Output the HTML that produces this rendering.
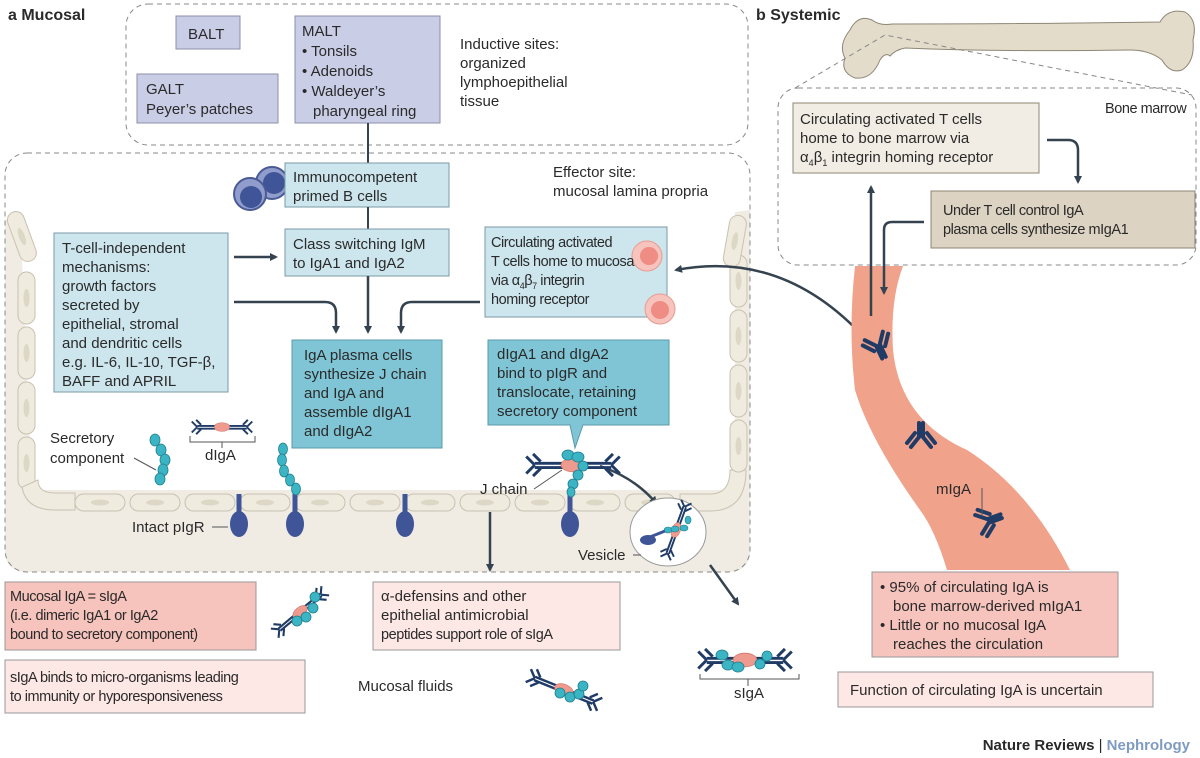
<!DOCTYPE html>
<html><head><meta charset="utf-8"><style>
html,body{margin:0;padding:0;background:#fff;}
svg{display:block;font-family:"Liberation Sans",sans-serif;}
text{font-size:15px;fill:#2a2a2a;}
.s{font-size:14.5px;letter-spacing:-0.45px;}
.b{font-weight:bold;}
</style></head><body>
<svg width="1200" height="758" viewBox="0 0 1200 758" xmlns="http://www.w3.org/2000/svg">
<defs>
<marker id="ah" markerWidth="8" markerHeight="8" refX="6" refY="4" orient="auto" markerUnits="userSpaceOnUse"><path d="M0,0 L8,4 L0,8 z" fill="#34434f"/></marker>
<g id="cellh"><rect x="0" y="0" width="50" height="17" rx="8.5" fill="#efebdf" stroke="#c9c2b0"/><ellipse cx="25" cy="8.5" rx="9" ry="3" fill="#ddd7c6"/></g>
<g id="cellv"><rect x="0" y="0" width="17" height="52" rx="8.5" fill="#efebdf" stroke="#c9c2b0"/><ellipse cx="8.5" cy="26" rx="3" ry="9" fill="#ddd7c6"/></g>
<g id="pigr"><rect x="-2.5" y="-30" width="5" height="24" fill="#3f5597"/><ellipse cx="0" cy="0" rx="9" ry="13" fill="#3f5597"/></g>
<g id="ab" stroke="#1f3b66" stroke-width="4" fill="none" stroke-linecap="round"><path d="M-2,14 L-2,0 L-10,-10 M2,14 L2,0 L10,-10 M-6,4 L-14,-6 M6,4 L14,-6"/></g>
<g id="dimer"><path d="M-45,-2 H45 M-45,3 H45" stroke="#1f3b66" stroke-width="3.5"/><path d="M-45,0 L-55,-10 M-45,0 L-55,10 M-38,-4 L-47,-13 M-38,4 L-47,13 M45,0 L55,-10 M45,0 L55,10 M38,-4 L47,-13 M38,4 L47,13" stroke="#1f3b66" stroke-width="3.5"/><ellipse cx="0" cy="0" rx="14" ry="8" fill="#ef9a8e" stroke="#d0786c"/></g>
</defs>

<text x="8" y="20" class="b" style="font-size:16px">a  Mucosal</text>
<text x="756" y="20" class="b" style="font-size:16px">b  Systemic</text>

<rect x="126" y="4" width="622" height="141" rx="22" fill="none" stroke="#888" stroke-dasharray="5,4"/>
<rect x="176" y="16" width="64" height="33" fill="#c9cde6" stroke="#8d8fa8"/><text x="188" y="39">BALT</text>
<rect x="137" y="74" width="141" height="49" fill="#c9cde6" stroke="#8d8fa8"/><text x="146" y="94">GALT</text><text x="146" y="114">Peyer’s patches</text>
<rect x="295" y="16" width="145" height="107" fill="#c9cde6" stroke="#8d8fa8"/>
<text x="302" y="36">MALT</text><text x="302" y="56">• Tonsils</text><text x="302" y="76">• Adenoids</text><text x="302" y="96">• Waldeyer’s</text><text x="313" y="116">pharyngeal ring</text>
<text x="460" y="49">Inductive sites:</text><text x="460" y="68">organized</text><text x="460" y="87">lymphoepithelial</text><text x="460" y="106">tissue</text>
<line x1="368" y1="123" x2="368" y2="163" stroke="#34434f" stroke-width="2"/>

<path d="M5,220 L20,215 L32,490 L735,490 L735,212 L750,210 L750,550 Q750,572 728,572 L27,572 Q5,572 5,550 Z" fill="#f0ece4"/>
<rect x="5" y="153" width="745" height="419" rx="22" fill="none" stroke="#888" stroke-dasharray="5,4"/>
<g transform="translate(5,215) rotate(-20)"><use href="#cellv"/></g>
<use href="#cellv" x="18" y="272"/><use href="#cellv" x="18" y="327"/><use href="#cellv" x="18" y="382"/><use href="#cellv" x="18" y="437"/>
<path d="M22,487 Q26,510 55,510 L75,510 L75,493 L55,493 Q38,493 38,480 Z" fill="#efebdf" stroke="#c9c2b0"/>
<use href="#cellh" x="75" y="494"/><use href="#cellh" x="130" y="494"/><use href="#cellh" x="185" y="494"/><use href="#cellh" x="240" y="494"/><use href="#cellh" x="295" y="494"/><use href="#cellh" x="350" y="494"/><use href="#cellh" x="405" y="494"/><use href="#cellh" x="460" y="494"/><use href="#cellh" x="515" y="494"/><use href="#cellh" x="570" y="494"/><use href="#cellh" x="625" y="494"/>
<path d="M680,494 L710,494 Q730,494 730,470 L746,470 Q746,511 710,511 L680,511 Z" fill="#efebdf" stroke="#c9c2b0"/>
<use href="#cellv" x="730" y="420"/><use href="#cellv" x="730" y="365"/><use href="#cellv" x="730" y="310"/><use href="#cellv" x="730" y="255"/>
<g transform="translate(731,214) rotate(10)"><use href="#cellv"/></g>

<text x="553" y="177">Effector site:</text><text x="553" y="196">mucosal lamina propria</text>

<circle cx="272" cy="183" r="16" fill="#8f9ccc" stroke="#4a5a94" stroke-width="2"/><circle cx="274" cy="183" r="11" fill="#3f5597"/>
<circle cx="250" cy="194" r="16" fill="#8f9ccc" stroke="#4a5a94" stroke-width="2"/><circle cx="251" cy="197" r="11" fill="#3f5597"/>

<rect x="285" y="163" width="164" height="44" fill="#cde6ee" stroke="#7a9aa6"/><text x="293" y="182">Immunocompetent</text><text x="293" y="201">primed B cells</text>
<line x1="368" y1="207" x2="368" y2="229" stroke="#34434f" stroke-width="2"/>
<rect x="285" y="229" width="164" height="47" fill="#cde6ee" stroke="#7a9aa6"/><text x="293" y="249">Class switching IgM</text><text x="293" y="268">to IgA1 and IgA2</text>

<rect x="54" y="233" width="174" height="159" fill="#cde6ee" stroke="#7a9aa6"/>
<text x="62" y="253">T-cell-independent</text><text x="62" y="272">mechanisms:</text><text x="62" y="291">growth factors</text><text x="62" y="310">secreted by</text><text x="62" y="329">epithelial, stromal</text><text x="62" y="348">and dendritic cells</text><text x="62" y="367">e.g. IL-6, IL-10, TGF-β,</text><text x="62" y="386">BAFF and APRIL</text>

<g stroke="#34434f" stroke-width="2.5" fill="none">
<line x1="234" y1="257" x2="276" y2="257" marker-end="url(#ah)"/>
<path d="M234,302 L325,302 Q336,302 336,313 L336,332" marker-end="url(#ah)"/>
<line x1="368" y1="276" x2="368" y2="332" marker-end="url(#ah)"/>
<path d="M480,302 L412,302 Q401,302 401,313 L401,332" marker-end="url(#ah)"/>
<path d="M860,333 Q780,250 676,270" marker-end="url(#ah)"/>
<line x1="490" y1="512" x2="490" y2="570" marker-end="url(#ah)"/>
<path d="M600,466 Q635,478 656,503" marker-end="url(#ah)"/>
<path d="M710,565 L738,604" marker-end="url(#ah)"/>
</g>

<rect x="485" y="227" width="182" height="90" fill="#cde6ee" stroke="#7a9aa6"/>
<circle cx="647" cy="256" r="15" fill="#f7c3bd" stroke="#e89b92"/><circle cx="649" cy="256" r="9" fill="#ef8c84"/>
<circle cx="660" cy="309" r="15" fill="#f7c3bd" stroke="#e89b92"/><circle cx="660" cy="310" r="9" fill="#ef8c84"/>
<text x="491" y="247" class="s">Circulating activated</text><text x="491" y="266" class="s">T cells home to mucosa</text><text x="491" y="285" class="s">via α<tspan style="font-size:9px" dy="4">4</tspan><tspan dy="-4">β</tspan><tspan style="font-size:9px" dy="4">7</tspan><tspan dy="-4"> integrin</tspan></text><text x="491" y="304" class="s">homing receptor</text>

<rect x="292" y="340" width="150" height="108" fill="#80c5d5" stroke="#5b9aab"/>
<text x="304" y="360">IgA plasma cells</text><text x="304" y="379">synthesize J chain</text><text x="304" y="398">and IgA and</text><text x="304" y="417">assemble dIgA1</text><text x="304" y="436">and dIgA2</text>

<path d="M488,340 L669,340 L669,425 L583,425 L575,448 L570,425 L488,425 Z" fill="#80c5d5" stroke="#5b9aab"/>
<text x="497" y="359">dIgA1 and dIgA2</text><text x="497" y="378">bind to pIgR and</text><text x="497" y="397">translocate, retaining</text><text x="497" y="416">secretory component</text>

<g fill="#3bb4c4" stroke="#1f7f8e" stroke-width="0.8">
<ellipse cx="155" cy="440" rx="5" ry="6"/><ellipse cx="161" cy="450" rx="5" ry="6"/><ellipse cx="165" cy="460" rx="5" ry="6"/><ellipse cx="163" cy="470" rx="5" ry="6"/><ellipse cx="160" cy="479" rx="5" ry="6"/>
</g>
<text x="50" y="443">Secretory</text><text x="50" y="463">component</text>
<line x1="134" y1="458" x2="156" y2="470" stroke="#555"/>
<g transform="translate(222,427) scale(0.55)"><use href="#dimer"/></g>
<path d="M190,436 V442 H255 V436 M222,442 V448" stroke="#555" fill="none"/>
<text x="205" y="460">dIgA</text>

<use href="#pigr" x="239" y="524"/><use href="#pigr" x="295" y="524"/><use href="#pigr" x="405" y="524"/><use href="#pigr" x="570" y="524"/>
<g fill="#3bb4c4" stroke="#1f7f8e" stroke-width="0.8">
<ellipse cx="283" cy="449" rx="4.5" ry="6"/><ellipse cx="282" cy="460" rx="4.5" ry="6"/><ellipse cx="284" cy="471" rx="4.5" ry="6"/><ellipse cx="290" cy="480" rx="4.5" ry="6"/><ellipse cx="296" cy="489" rx="4.5" ry="6"/>
</g>
<text x="132" y="532">Intact pIgR</text><line x1="212" y1="527" x2="228" y2="527" stroke="#555"/>

<g transform="translate(573,465) scale(0.85)"><use href="#dimer"/></g>
<g fill="#3bb4c4" stroke="#1f7f8e" stroke-width="0.8">
<ellipse cx="568" cy="455" rx="6" ry="5"/><ellipse cx="578" cy="457" rx="6" ry="5"/><ellipse cx="583" cy="466" rx="5" ry="5"/><ellipse cx="578" cy="475" rx="5" ry="5"/><ellipse cx="573" cy="484" rx="5" ry="5"/><ellipse cx="571" cy="492" rx="4" ry="5"/>
</g>
<text x="480" y="494">J chain</text><line x1="534" y1="489" x2="562" y2="470" stroke="#555"/>

<ellipse cx="668" cy="532" rx="38" ry="34" fill="#fff" stroke="#999"/>
<g transform="translate(676,530) rotate(-70) scale(0.55)"><use href="#dimer"/></g>
<g fill="#3bb4c4" stroke="#1f7f8e" stroke-width="0.6"><ellipse cx="668" cy="530" rx="4" ry="3"/><ellipse cx="675" cy="529" rx="4" ry="3"/><ellipse cx="684" cy="528" rx="4" ry="3"/><ellipse cx="688" cy="520" rx="3" ry="4"/></g>
<line x1="650" y1="537" x2="665" y2="531" stroke="#3f5597" stroke-width="3"/>
<ellipse cx="648" cy="540" rx="8" ry="5" fill="#3f5597"/>
<text x="578" y="560">Vesicle</text><line x1="633" y1="555" x2="641" y2="555" stroke="#555"/>

<rect x="5" y="582" width="251" height="68" fill="#f6c4bd" stroke="#999"/>
<text x="10" y="601" class="s">Mucosal IgA = sIgA</text><text x="10" y="620" class="s">(i.e. dimeric IgA1 or IgA2</text><text x="10" y="639" class="s">bound to secretory component)</text>
<g transform="translate(300,612) rotate(-40) scale(0.6)"><use href="#dimer"/></g>
<g fill="#3bb4c4" stroke="#1f7f8e" stroke-width="0.8"><ellipse cx="315" cy="597" rx="5" ry="5"/><ellipse cx="313" cy="608" rx="5" ry="5"/><ellipse cx="306" cy="617" rx="5" ry="5"/><ellipse cx="297" cy="621" rx="5" ry="5"/></g>
<rect x="5" y="660" width="300" height="53" fill="#fde8e5" stroke="#999"/>
<text x="10" y="682" class="s">sIgA binds to micro-organisms leading</text><text x="10" y="701" class="s">to immunity or hyporesponsiveness</text>
<rect x="373" y="582" width="247" height="68" fill="#fde8e5" stroke="#999"/>
<text x="381" y="601">α-defensins and other</text><text x="381" y="620">epithelial antimicrobial</text><text x="381" y="639" class="s">peptides support role of sIgA</text>
<text x="358" y="691">Mucosal fluids</text>
<g transform="translate(564,690) rotate(22) scale(0.7)"><use href="#dimer"/></g>
<g fill="#3bb4c4" stroke="#1f7f8e" stroke-width="0.8"><ellipse cx="560" cy="693" rx="5" ry="5"/><ellipse cx="570" cy="697" rx="5" ry="5"/><ellipse cx="579" cy="694" rx="5" ry="5"/><ellipse cx="583" cy="686" rx="5" ry="5"/></g>

<g transform="translate(745,660) scale(0.85)"><use href="#dimer"/></g>
<g fill="#3bb4c4" stroke="#1f7f8e" stroke-width="0.8"><ellipse cx="722" cy="655" rx="6" ry="5"/><ellipse cx="728" cy="665" rx="6" ry="5"/><ellipse cx="738" cy="667" rx="6" ry="5"/><ellipse cx="760" cy="664" rx="5" ry="5"/><ellipse cx="767" cy="656" rx="5" ry="5"/></g>
<path d="M700,674 V679 H799 V674 M748,679 V686" stroke="#555" fill="none"/>
<text x="734" y="698">sIgA</text>

<path d="M850,30 Q858,14 872,20 Q880,26 892,24 Q1020,24 1160,22 Q1168,8 1185,12 Q1198,20 1193,40 Q1195,62 1182,70 Q1170,74 1162,60 Q1150,50 1130,50 Q1000,52 905,48 Q895,50 890,56 Q885,52 880,60 Q872,80 855,78 Q840,72 845,58 Q838,45 850,30 Z" fill="#e4dccb" stroke="#8e8675"/>
<path d="M795,88 L885,35 L1192,95" fill="none" stroke="#888" stroke-dasharray="5,4"/>
<rect x="778" y="88" width="418" height="177" rx="20" fill="none" stroke="#888" stroke-dasharray="5,4"/>
<text x="1105" y="113" class="s">Bone marrow</text>
<rect x="793" y="103" width="246" height="70" fill="#f1ede4" stroke="#8e8675"/>
<text x="800" y="124">Circulating activated T cells</text><text x="800" y="143">home to bone marrow via</text><text x="800" y="162">α<tspan style="font-size:9px" dy="4">4</tspan><tspan dy="-4">β</tspan><tspan style="font-size:9px" dy="4">1</tspan><tspan dy="-4"> integrin homing receptor</tspan></text>
<rect x="931" y="191" width="264" height="57" fill="#ddd3c2" stroke="#8e8675"/>
<text x="943" y="215" class="s">Under T cell control IgA</text><text x="943" y="234" class="s">plasma cells synthesize mIgA1</text>

<path d="M855,266 L903,266 Q890,300 893,350 Q900,420 967,450 Q1030,490 1070,570 L947,570 Q935,530 920,510 Q870,440 855,390 Q848,330 855,266 Z" fill="#f0a28b"/>
<g stroke="#34434f" stroke-width="2.5" fill="none">
<line x1="871" y1="316" x2="871" y2="187" marker-end="url(#ah)"/>
<path d="M924,222 L892,222 Q884,222 884,230 L884,293" marker-end="url(#ah)"/>
<path d="M1047,140 L1068,140 Q1078,140 1078,150 L1078,182" marker-end="url(#ah)"/>
</g>
<g transform="translate(878,345) rotate(-25)"><use href="#ab"/></g>
<g transform="translate(921,437) rotate(180)"><use href="#ab"/></g>
<g transform="translate(988,521) rotate(-110)"><use href="#ab"/></g>
<text x="936" y="494">mIgA</text><line x1="982" y1="488" x2="982" y2="515" stroke="#555"/>

<rect x="872" y="572" width="246" height="85" fill="#f6c4bd" stroke="#999"/>
<text x="880" y="592">• 95% of circulating IgA is</text><text x="893" y="611">bone marrow-derived mIgA1</text><text x="880" y="630">• Little or no mucosal IgA</text><text x="893" y="649">reaches the circulation</text>
<rect x="838" y="672" width="315" height="35" fill="#fde8e5" stroke="#999"/>
<text x="850" y="695">Function of circulating IgA is uncertain</text>
<text x="1190" y="750" text-anchor="end" style="font-size:15px"><tspan style="font-weight:bold">Nature Reviews</tspan> | <tspan style="fill:#7f9bc2;font-weight:bold">Nephrology</tspan></text>
</svg>
</body></html>
